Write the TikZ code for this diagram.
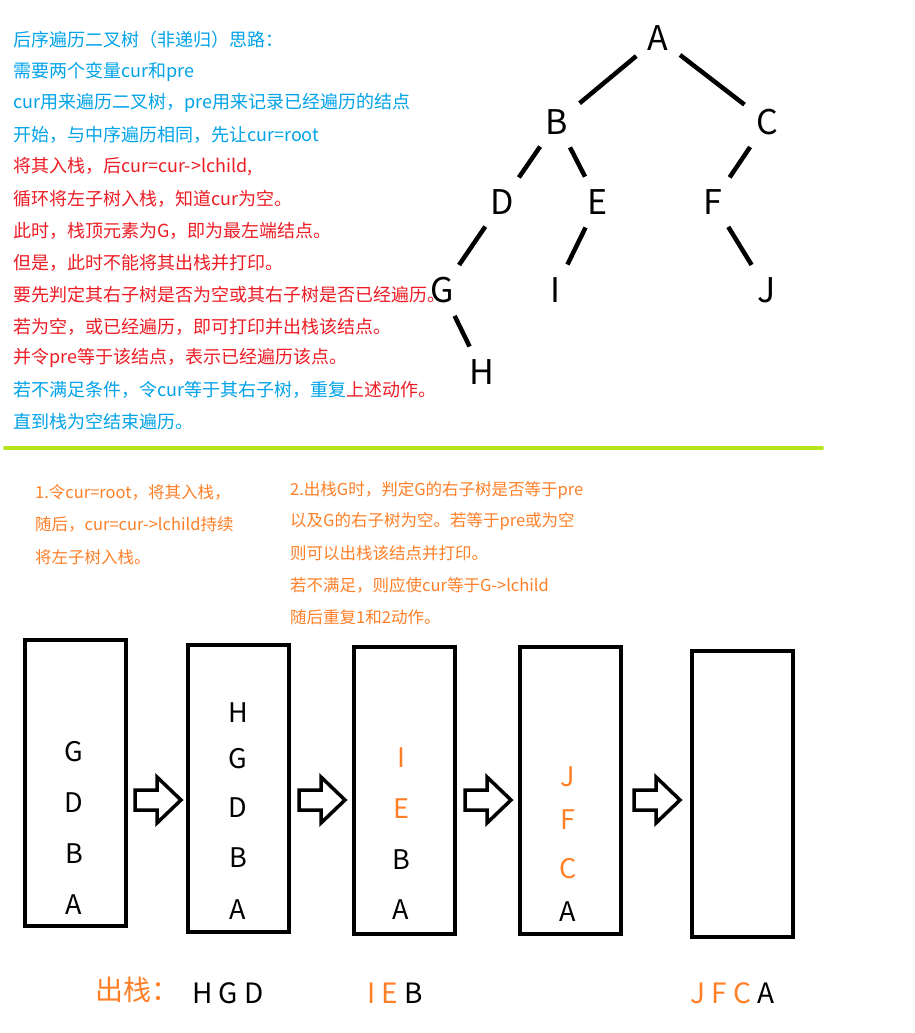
\documentclass[tikz,border=0pt]{standalone}
\usepackage{fontspec}
\setmainfont{Noto Sans CJK SC}
\definecolor{cblue}{HTML}{00A2E8}
\definecolor{cred}{HTML}{ED1C24}
\definecolor{corange}{HTML}{FF7F27}
\definecolor{cgreen}{HTML}{B5E61D}
\begin{document}
\begin{tikzpicture}[x=1pt,y=-1pt,
  txt/.style={anchor=west,inner sep=0pt,font=\fontsize{18}{20}\selectfont},
  otx/.style={anchor=west,inner sep=0pt,text=corange,font=\fontsize{16.5}{18}\selectfont},
  tn/.style={inner sep=2pt,font=\fontsize{34}{36}\selectfont},
  te/.style={line width=4.5pt,shorten >=12pt,shorten <=12pt},
  stk/.style={draw,line width=4pt},
  sl/.style={font=\fontsize{27}{30}\selectfont,inner sep=0pt},
  arr/.style={draw,line width=3.5pt,fill=white,line join=miter},
  bt/.style={anchor=west,inner sep=0pt,font=\fontsize{28}{30}\selectfont}]
\useasboundingbox (0,0) rectangle (915,1033);
% text
\node[txt,text=cblue] (t1) at (13,40) {后序遍历二叉树（非递归）思路：};
\node[txt,text=cblue] (t2) at (13,72) {需要两个变量cur和pre};
\node[txt,text=cblue] (t3) at (13,103) {cur用来遍历二叉树，pre用来记录已经遍历的结点};
\node[txt,text=cblue] (t4) at (13,135) {开始，与中序遍历相同，先让cur=root};
\node[txt,text=cred] (t5) at (13,167) {将其入栈，后cur=cur->lchild,};
\node[txt,text=cred] (t6) at (13,199) {循环将左子树入栈，知道cur为空。};
\node[txt,text=cred] (t7) at (13,231) {此时，栈顶元素为G，即为最左端结点。};
\node[txt,text=cred] (t8) at (13,263) {但是，此时不能将其出栈并打印。};
\node[txt,text=cred] (t9) at (13,295) {要先判定其右子树是否为空或其右子树是否已经遍历。};
\node[txt,text=cred] (t10) at (13,327) {若为空，或已经遍历，即可打印并出栈该结点。};
\node[txt,text=cred] (t11) at (13,358) {并令pre等于该结点，表示已经遍历该点。};
\node[txt] (t12) at (13,390) {\textcolor{cblue}{若不满足条件，令cur等于其右子树，重复}\textcolor{cred}{上述动作。}};
\node[txt,text=cblue] (t13) at (13,422) {直到栈为空结束遍历。};
% tree
\node[tn] (A) at (658,38) {A};
\node[tn] (B) at (557,122) {B};
\node[tn] (C) at (767,122) {C};
\node[tn] (D) at (502,202) {D};
\node[tn] (E) at (598,202) {E};
\node[tn] (F) at (713,202) {F};
\node[tn] (G) at (442,290) {G};
\node[tn] (I) at (555,290) {I};
\node[tn] (J) at (767,290) {J};
\node[tn] (H) at (482,372) {H};
\foreach \a/\b in {A/B,A/C,B/D,B/E,C/F,D/G,E/I,F/J,G/H}
  \draw[te] (\a) -- (\b);
% green line
\coordinate (g1) at (5,448); \coordinate (g2) at (822,448);
\draw[cgreen,line width=4pt,line cap=round] (g1) -- (g2);
% orange notes
\node[otx] (o1) at (35,492) {1.令cur=root，将其入栈，};
\node[otx] (o2) at (35,524) {随后，cur=cur->lchild持续};
\node[otx] (o3) at (35,557) {将左子树入栈。};
\node[otx] (p1) at (290,490) {2.出栈G时，判定G的右子树是否等于pre};
\node[otx] (p2) at (290,521) {以及G的右子树为空。若等于pre或为空};
\node[otx] (p3) at (290,553) {则可以出栈该结点并打印。};
\node[otx] (p4) at (290,585) {若不满足，则应使cur等于G->lchild};
\node[otx] (p5) at (290,617) {随后重复1和2动作。};
% stacks
\draw[stk] (25,640) rectangle (126,926);
\draw[stk] (188,645) rectangle (289,932);
\draw[stk] (354,647) rectangle (455,934);
\draw[stk] (520,647) rectangle (621,934);
\draw[stk] (692,651) rectangle (793,937);
\node[sl] (s1a) at (74,752) {G};
\node[sl] (s1b) at (74,803) {D};
\node[sl] (s1c) at (74,854) {B};
\node[sl] (s1d) at (74,905) {A};
\node[sl] (s2a) at (238,713) {H};
\node[sl] (s2b) at (238,759) {G};
\node[sl] (s2c) at (238,808) {D};
\node[sl] (s2d) at (238,858) {B};
\node[sl] (s2e) at (238,910) {A};
\node[sl,text=corange] (s3a) at (401,758) {I};
\node[sl,text=corange] (s3b) at (401,809) {E};
\node[sl] (s3c) at (401,860) {B};
\node[sl] (s3d) at (401,910) {A};
\node[sl,text=corange] (s4a) at (568,777) {J};
\node[sl,text=corange] (s4b) at (568,820) {F};
\node[sl,text=corange] (s4c) at (568,869) {C};
\node[sl] (s4d) at (568,912) {A};
% arrows
\foreach \x in {135,299,465,634}{
  \draw[arr] (\x,790) -- (\x+22,790) -- (\x+22,777) -- (\x+46,800) -- (\x+22,823) -- (\x+22,810) -- (\x,810) -- cycle;
}
% bottom
\node[bt,text=corange] (b0) at (95,990) {出栈：};
\node[bt] (b1) at (192,993) {H G D};
\node[bt] (b2) at (367,993) {\textcolor{corange}{I E} B};
\node[bt] (b3) at (690,993) {\textcolor{corange}{J F C} A};
\end{tikzpicture}
\end{document}
